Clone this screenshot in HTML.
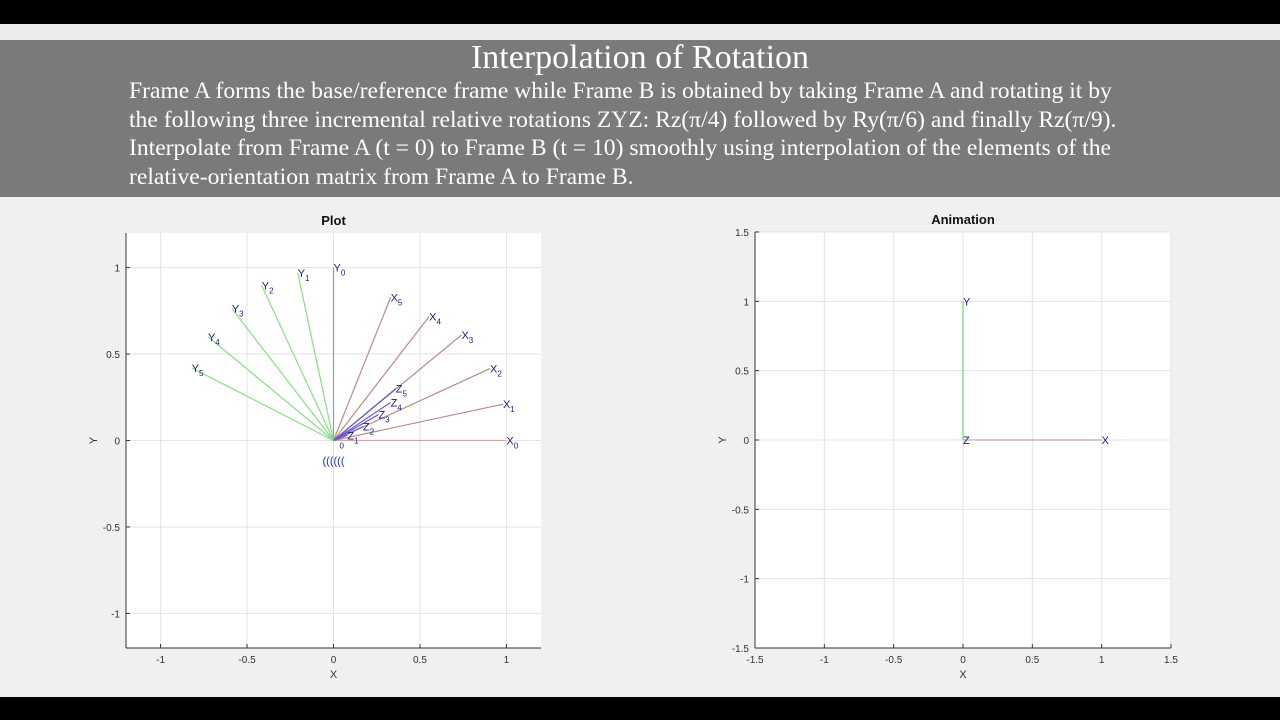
<!DOCTYPE html>
<html><head><meta charset="utf-8"><style>
html,body{margin:0;padding:0;width:1280px;height:720px;overflow:hidden;background:#f0f0f0;font-family:"Liberation Sans",sans-serif}
#topbar{position:absolute;left:0;top:0;width:1280px;height:24px;background:#000}
#strip{position:absolute;left:0;top:24px;width:1280px;height:16px;background:#ececec}
#header{position:absolute;left:0;top:40px;width:1280px;height:157px;background:#7a7a7a;color:#fff;font-family:"Liberation Serif",serif}
#title{position:absolute;top:0;width:1280px;text-align:center;font-size:34px;line-height:36px}
#desc{position:absolute;left:129px;top:37px;font-size:23.6px;line-height:28.7px;white-space:nowrap}
#botbar{position:absolute;left:0;top:697px;width:1280px;height:23px;background:#000}
svg{position:absolute;left:0;top:0}
</style></head><body>
<div id="topbar"></div>
<div id="strip"></div>
<div id="header">
<div id="title">Interpolation of Rotation</div>
<div id="desc">Frame A forms the base/reference frame while Frame B is obtained by taking Frame A and rotating it by<br>the following three incremental relative rotations ZYZ: Rz(π/4) followed by Ry(π/6) and finally Rz(π/9).<br>Interpolate from Frame A (t = 0) to Frame B (t = 10) smoothly using interpolation of the elements of the<br>relative-orientation matrix from Frame A to Frame B.</div>
</div>
<div id="botbar"></div>
<svg id="chart" width="1280" height="720" xmlns="http://www.w3.org/2000/svg"></svg>
<script>
// Plot (left) data
const xEndX = [1, 0.98, 0.905, 0.74, 0.553, 0.33];
const xEndY = [0, 0.21, 0.416, 0.61, 0.717, 0.827];
const yEndX = [0, -0.207, -0.415, -0.588, -0.726, -0.82];
const yEndY = [1, 0.97, 0.896, 0.763, 0.6, 0.42];
const zEndX = [0, 0.08, 0.17, 0.26, 0.33, 0.36];
const zEndY = [0, 0.03, 0.08, 0.15, 0.22, 0.30];
const leftTicks = [-1, -0.5, 0, 0.5, 1];
const leftTickLabels = ["-1", "-0.5", "0", "0.5", "1"];
// Animation (right) data
const animX = [1, 0];
const animY = [0, 1];
const rightTicks = [-1.5, -1, -0.5, 0, 0.5, 1, 1.5];
const rightTickLabels = ["-1.5", "-1", "-0.5", "0", "0.5", "1", "1.5"];

const svg = document.getElementById('chart');
const NS = 'http://www.w3.org/2000/svg';
function mk(tag, attrs, parent) {
  const e = document.createElementNS(NS, tag);
  for (const k in attrs) e.setAttribute(k, attrs[k]);
  (parent || svg).appendChild(e);
  return e;
}
function txt(s, x, y, attrs, parent) {
  const t = mk('text', Object.assign({x: x, y: y, 'font-family': '"Liberation Sans",sans-serif'}, attrs), parent);
  t.textContent = s;
  return t;
}

function axes(name, L, T, W, H, min, max, ticks, labels, title) {
  const g = mk('g', {});
  
  
  const sx = v => L + (v - min) / (max - min) * W;
  const sy = v => T + H - (v - min) / (max - min) * H;
  const bg = mk('rect', {x: L, y: T, width: W, height: H, fill: '#fff'}, g);
  
  
  ticks.forEach((t, i) => {
    mk('line', {x1: sx(t), x2: sx(t), y1: T, y2: T + H, stroke: '#e3e3e3', 'stroke-width': 1}, g);
    mk('line', {x1: L, x2: L + W, y1: sy(t), y2: sy(t), stroke: '#e3e3e3', 'stroke-width': 1}, g);
    mk('line', {x1: sx(t), x2: sx(t), y1: T + H, y2: T + H - 4, stroke: '#333'}, g);
    mk('line', {x1: L, x2: L + 4, y1: sy(t), y2: sy(t), stroke: '#333'}, g);
    const xl = txt(labels[i], sx(t), T + H + 15, {'font-size': 10, fill: '#333', 'text-anchor': 'middle'}, g);
    
    
    const yl = txt(labels[i], L - 6, sy(t) + 4, {'font-size': 10, fill: '#333', 'text-anchor': 'end'}, g);
    
    
  });
  mk('line', {x1: L, x2: L, y1: T, y2: T + H, stroke: '#333'}, g);
  mk('line', {x1: L, x2: L + W, y1: T + H, y2: T + H, stroke: '#333'}, g);
  const tt = txt(title, L + W / 2, T - 8, {'font-size': 13, 'font-weight': 'bold', 'text-anchor': 'middle', fill: '#111'}, g);
  
  
  const xt = txt('X', L + W / 2, T + H + 30, {'font-size': 11, 'text-anchor': 'middle', fill: '#333'}, g);
  
  
  const yt = txt('Y', 0, 0, {'font-size': 11, 'text-anchor': 'middle', fill: '#333', transform: `translate(${L - 29},${T + H / 2}) rotate(-90)`}, g);
  
  
  return {g, sx, sy};
}

function vec(ax, x, y, color, name) {
  const l = mk('line', {x1: ax.sx(0), y1: ax.sy(0), x2: ax.sx(x), y2: ax.sy(y), stroke: color, 'stroke-width': 1.2}, ax.g);
  
  
}
function lab(ax, x, y, s, sub, name) {
  const t = txt(s, ax.sx(x), ax.sy(y) + 4, {'font-size': 11, fill: '#1a1a7a'}, ax.g);
  
  
  if (sub !== null) {
    const ts = mk('tspan', {dy: 4, 'font-size': 8}, t);
    ts.textContent = sub;
  }
}

const A = axes('plot-chart', 126, 233, 415, 415, -1.2, 1.2, leftTicks, leftTickLabels, 'Plot');
for (let i = 0; i < xEndX.length; i++) {
  vec(A, yEndX[i], yEndY[i], i === 0 ? '#999' : '#88dd88', 'y-axis-vector-' + i);
  vec(A, xEndX[i], xEndY[i], i === 0 ? '#d0a8a8' : '#b88a8a', 'x-axis-vector-' + i);
  vec(A, zEndX[i], zEndY[i], '#6a5acd', 'z-axis-vector-' + i);
}
for (let i = 0; i < xEndX.length; i++) {
  lab(A, xEndX[i], xEndY[i], 'X', String(i), 'x-label-' + i);
  lab(A, yEndX[i], yEndY[i], 'Y', String(i), 'y-label-' + i);
  if (i > 0) lab(A, zEndX[i], zEndY[i], 'Z', String(i), 'z-label-' + i);
}
const z0 = txt('0', A.sx(0) + 6, A.sy(0) + 8, {'font-size': 8, fill: '#1a1a7a'}, A.g);


const cl = txt('((((((', A.sx(0), A.sy(0) + 24, {'font-size': 11, fill: '#2233aa', 'text-anchor': 'middle', 'letter-spacing': '0'}, A.g);



const B = axes('animation-chart', 755, 232, 416, 416, -1.5, 1.5, rightTicks, rightTickLabels, 'Animation');
vec(B, animX[0], animX[1], '#c8a8a8', 'anim-x-vector');
vec(B, animY[0], animY[1], '#66dd66', 'anim-y-vector');
lab(B, animX[0], animX[1], 'X', null, 'anim-x-label');
lab(B, animY[0], animY[1], 'Y', null, 'anim-y-label');
lab(B, 0, 0, 'Z', null, 'anim-z-label');
</script>
</body></html>
